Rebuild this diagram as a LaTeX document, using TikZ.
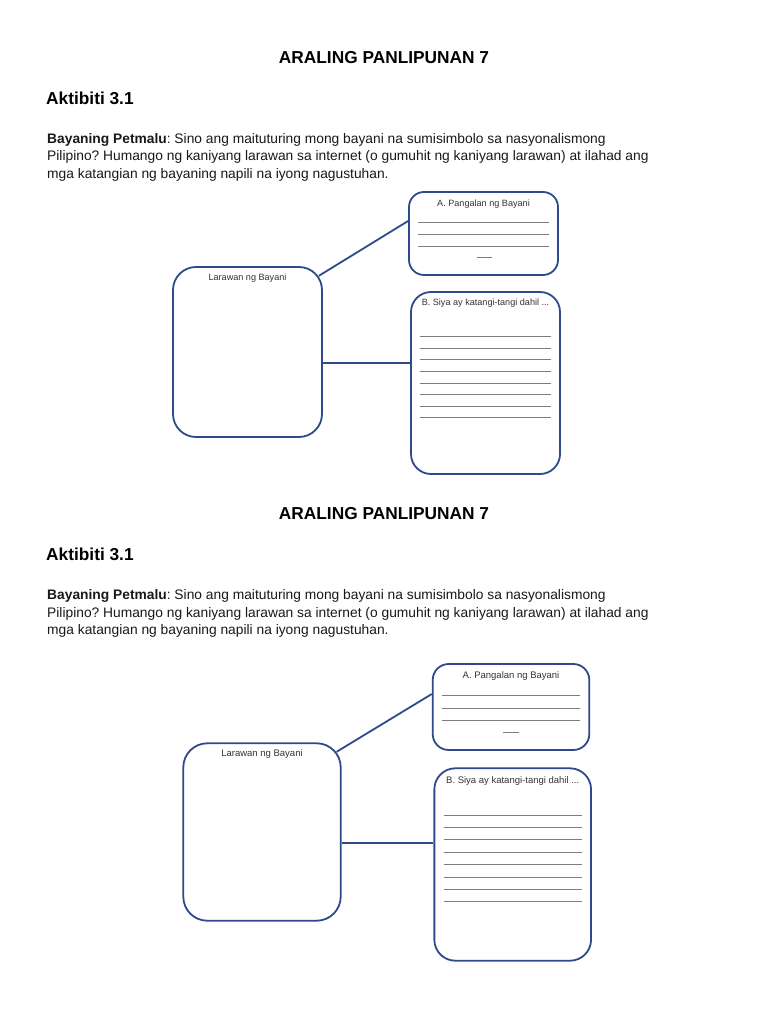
\documentclass[tikz,border=0pt]{standalone}
\usepackage{fontspec}
\setmainfont{Liberation Sans}
\frenchspacing
\definecolor{boxblue}{RGB}{46,74,140}
\definecolor{rulegray}{RGB}{125,125,125}
\usetikzlibrary{positioning}

\begin{document}
\begin{tikzpicture}[x=1pt,y=-1pt,
    box/.style={draw=boxblue,line width=1.8pt,rounded corners=#1,inner sep=0pt},
    box/.default=20pt,
    link/.style={draw=boxblue,line width=1.8pt},
    rule/.style={draw=rulegray,line width=0.9pt},
    head/.style={anchor=base,inner sep=0pt,font=\bfseries\fontsize{17.3}{20}\selectfont},
    body/.style={anchor=base west,inner sep=0pt,text=black!90,font=\fontsize{13.8}{17}\selectfont},
    boxtext/.style={anchor=base,inner sep=0pt,text=black!80}]
    \fill[white] (0,0) rectangle (768,1024);
    \useasboundingbox (0,0) rectangle (768,1024);

    % first sheet
    \node[head] (title1) at (384,64) {ARALING PANLIPUNAN 7};
    \node[head,anchor=base west] (akt1) at (46,105) {Aktibiti 3.1};
    \node[body] (p1a) at (47,143.3) {\textbf{Bayaning Petmalu}: Sino ang maituturing mong bayani na sumisimbolo sa nasyonalismong};
    \node[body] (p1b) at (47,161) {Pilipino? Humango ng kaniyang larawan sa internet (o gumuhit ng kaniyang larawan) at ilahad ang};
    \node[body] (p1c) at (47,178.3) {mga katangian ng bayaning napili na iyong nagustuhan.};

    \node[box=23pt,minimum width=149pt,minimum height=170pt] (larawan1) at (247.5,352) {};
    \node[box=15pt,minimum width=149pt,minimum height=83pt] (pangalan1) at (483.5,233.5) {};
    \node[box=20pt,minimum width=149pt,minimum height=182pt] (dahil1) at (485.5,383) {};
    \node[boxtext,font=\fontsize{9.1}{11}\selectfont] (lt1) at (247.5,280.5) {Larawan ng Bayani};
    \node[boxtext,font=\fontsize{9.1}{11}\selectfont] (at1) at (483.5,206.5) {A. Pangalan ng Bayani};
    \node[boxtext,font=\fontsize{9.1}{11}\selectfont] (bt1) at (485.5,305.5) {B. Siya ay katangi-tangi dahil ...};
    \foreach \y in {222.3,234.3,246}
        \draw[rule] (418,\y) -- (549,\y);
    \draw[rule] (477,257.7) -- (492,257.7);
    \foreach \i in {0,...,7}
        \draw[rule] (420,336.7+11.57*\i) -- (551,336.7+11.57*\i);
    \draw[link] ([xshift=-4pt,yshift=-9.7pt]larawan1.north east) -- ([yshift=12.5pt]pangalan1.west);
    \coordinate (h1) at ([yshift=-10.7pt]larawan1.east);
    \draw[link] (h1) -- (h1 -| dahil1.west);

    % second sheet
    \node[head] (title2) at (384,519) {ARALING PANLIPUNAN 7};
    \node[head,anchor=base west] (akt2) at (46,560) {Aktibiti 3.1};
    \node[body] (p2a) at (47,599.7) {\textbf{Bayaning Petmalu}: Sino ang maituturing mong bayani na sumisimbolo sa nasyonalismong};
    \node[body] (p2b) at (47,617.3) {Pilipino? Humango ng kaniyang larawan sa internet (o gumuhit ng kaniyang larawan) at ilahad ang};
    \node[body] (p2c) at (47,634.7) {mga katangian ng bayaning napili na iyong nagustuhan.};

    \node[box=24pt,minimum width=157.4pt,minimum height=177.4pt] (larawan2) at (262,832) {};
    \node[box=16pt,minimum width=156.6pt,minimum height=86pt] (pangalan2) at (511,707) {};
    \node[box=21pt,minimum width=156.7pt,minimum height=192.4pt] (dahil2) at (512.7,864.5) {};
    \node[boxtext,font=\fontsize{9.5}{11}\selectfont] (lt2) at (262,756.7) {Larawan ng Bayani};
    \node[boxtext,font=\fontsize{9.5}{11}\selectfont] (at2) at (511,678.5) {A. Pangalan ng Bayani};
    \node[boxtext,font=\fontsize{9.5}{11}\selectfont] (bt2) at (512.7,783.2) {B. Siya ay katangi-tangi dahil ...};
    \foreach \y in {695.7,708,720}
        \draw[rule] (442.3,\y) -- (580,\y);
    \draw[rule] (503.3,732) -- (519.3,732);
    \foreach \i in {0,...,7}
        \draw[rule] (444,815+12.39*\i) -- (582.3,815+12.39*\i);
    \draw[link] ([xshift=-5pt,yshift=-9.4pt]larawan2.north east) -- ([yshift=13pt]pangalan2.west);
    \coordinate (h2) at ([yshift=-10.7pt]larawan2.east);
    \draw[link] (h2) -- (h2 -| dahil2.west);
\end{tikzpicture}
\end{document}
